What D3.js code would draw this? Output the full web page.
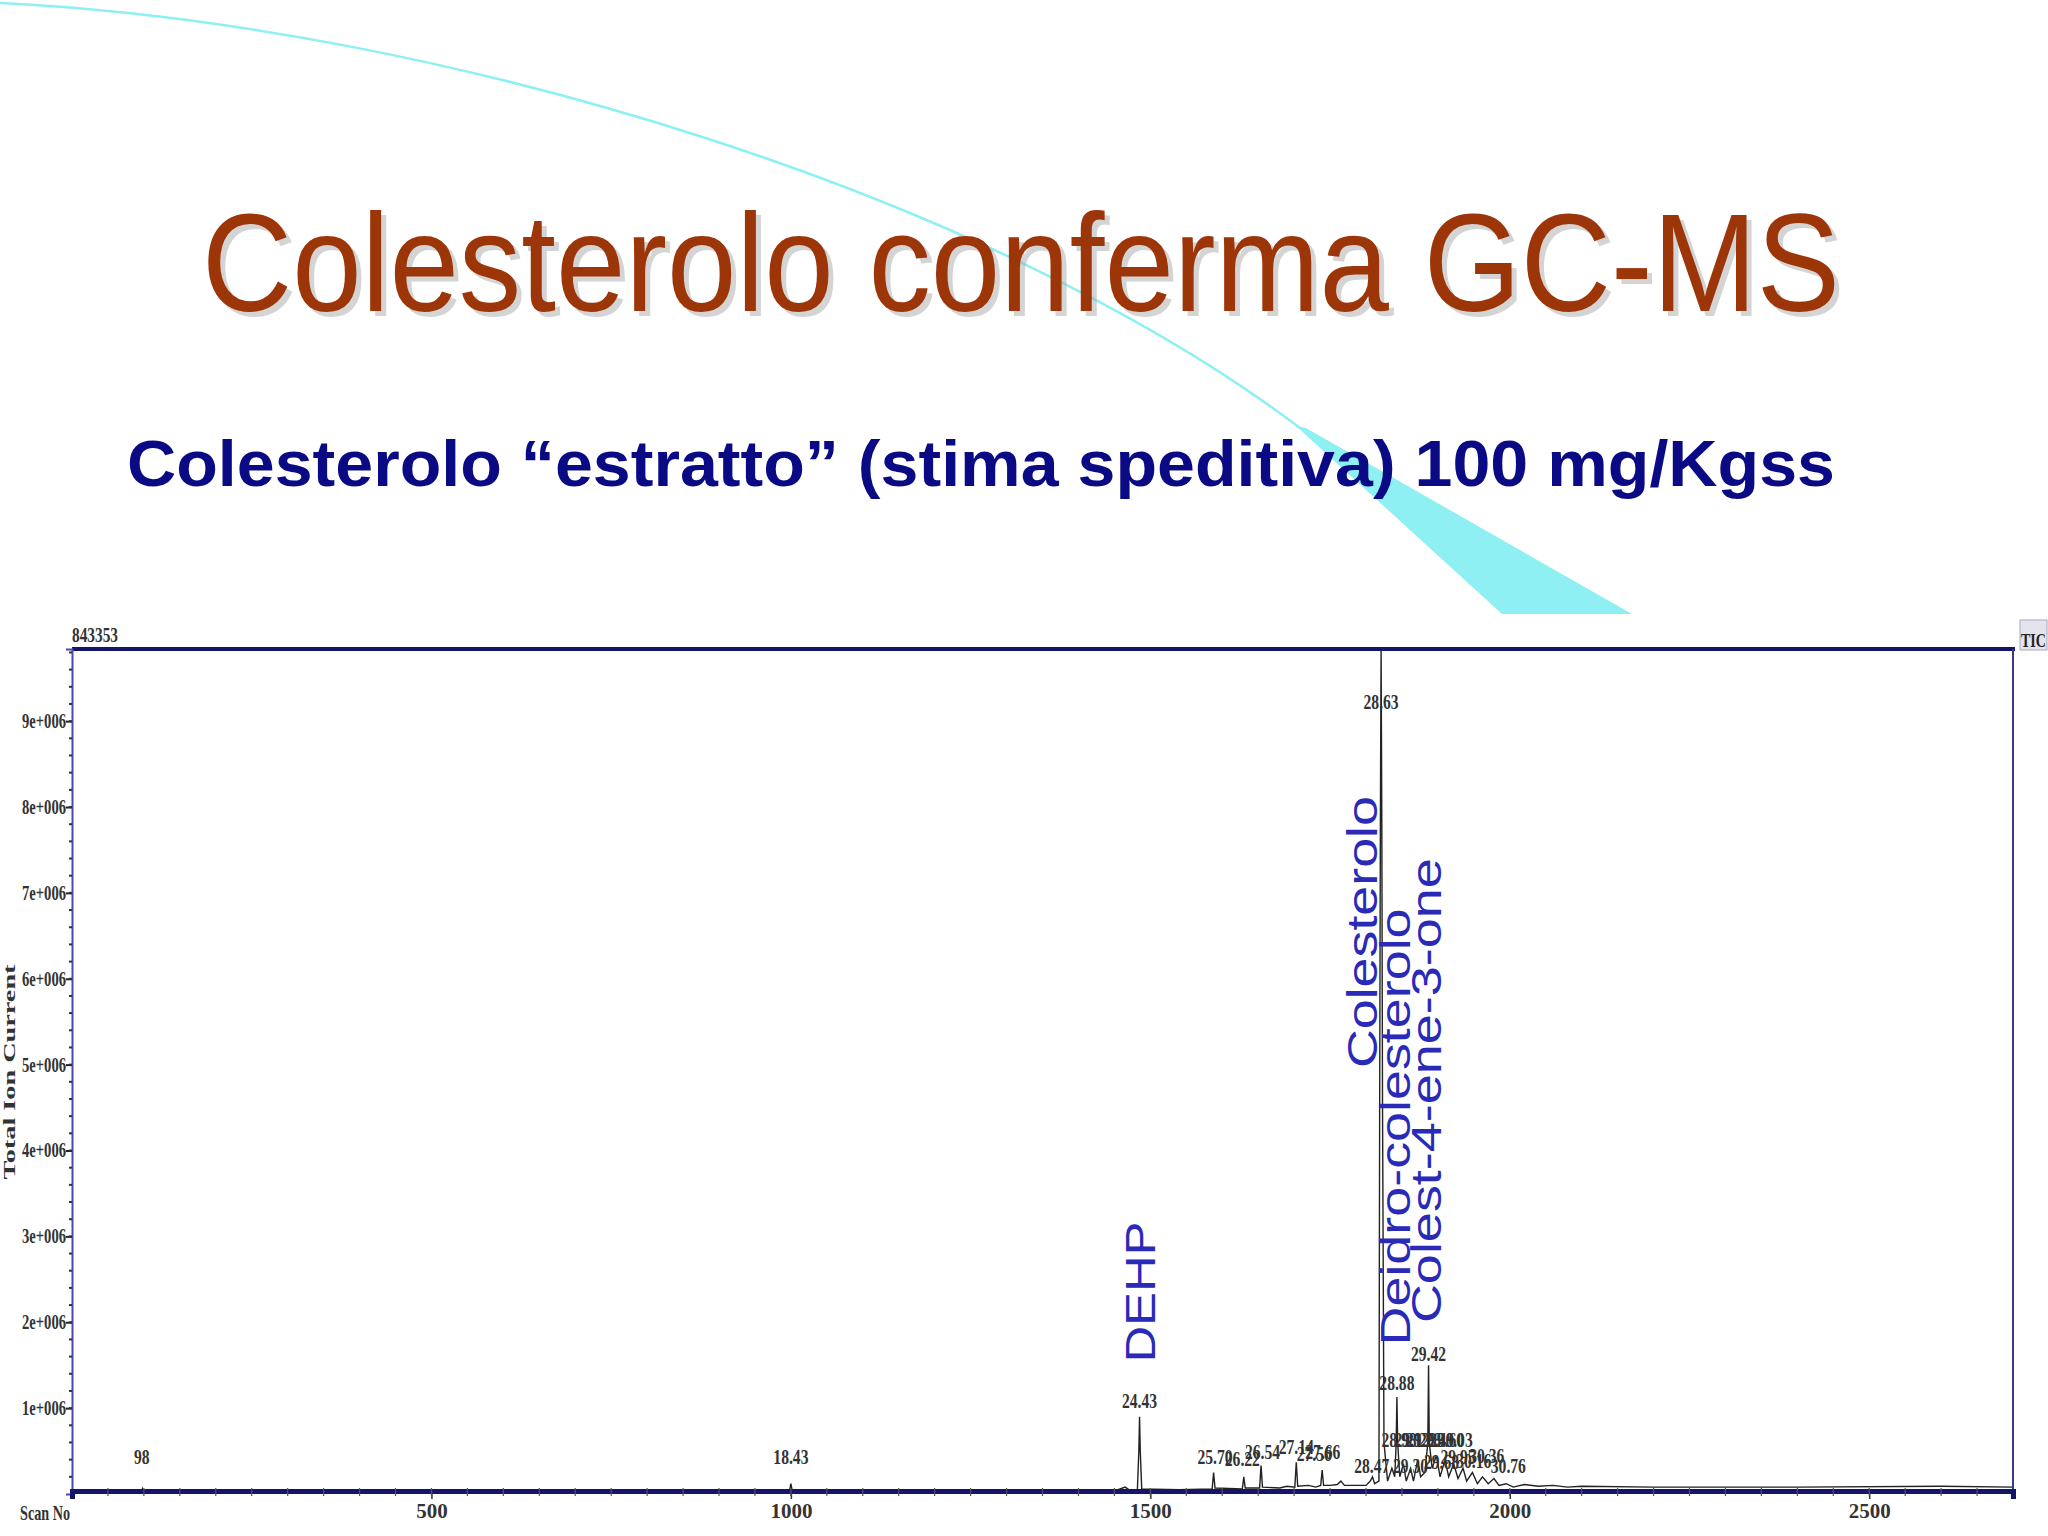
<!DOCTYPE html>
<html>
<head>
<meta charset="utf-8">
<script src="https://cdn.jsdelivr.net/npm/d3@7"></script>
<style>
body { margin: 0; background: #fff; }
svg { display: block; }
</style>
</head>
<body>
<svg id="chart" width="2048" height="1536"></svg>
<script>
// chromatogram trace: [scan number, total ion current in millions]
const trace = [
  [0,0.03],[60,0.03],[97,0.03],[98,0.06],[99,0.03],[460,0.03],[470,0.04],[480,0.03],
  [998,0.03],[1000,0.12],[1002,0.03],[1440,0.03],[1455,0.05],[1465,0.08],[1472,0.04],
  [1482,0.05],[1484,0.5],[1485,0.9],[1486,0.5],[1488,0.06],[1540,0.05],[1586,0.06],
  [1588,0.25],[1590,0.07],[1628,0.06],[1630,0.2],[1632,0.07],[1652,0.07],[1654,0.33],
  [1656,0.08],[1680,0.07],[1690,0.09],[1701,0.08],[1703,0.37],[1705,0.09],[1720,0.1],
  [1730,0.08],[1737,0.1],[1739,0.28],[1741,0.1],[1750,0.1],[1760,0.11],[1765,0.15],
  [1770,0.1],[1800,0.1],[1806,0.15],[1809,0.2],[1812,0.12],[1818,0.15],[1819,4.5],
  [1820,7.8],[1821,9.84],[1822,7.8],[1823,4.5],[1825,0.6],[1830,0.15],[1836,0.3],
  [1840,0.2],[1842,0.6],[1843,1.13],[1844,0.6],[1847,0.2],[1852,0.35],[1856,0.15],
  [1862,0.3],[1866,0.15],[1872,0.4],[1876,0.2],[1882,0.25],[1886,0.6],[1887,1.5],
  [1888,0.6],[1892,0.3],[1898,0.45],[1903,0.2],[1910,0.4],[1915,0.2],[1922,0.35],
  [1928,0.18],[1935,0.3],[1940,0.15],[1948,0.25],[1955,0.12],[1962,0.2],[1970,0.12],
  [1978,0.18],[1985,0.1],[1995,0.12],[2005,0.08],[2020,0.11],[2040,0.09],[2060,0.1],
  [2080,0.08],[2100,0.09],[2200,0.08],[2400,0.08],[2600,0.09],[2700,0.08]
];

// retention time labels: [scan, height in millions, text]
const peakLabels = [
  [97,0.3,"98"],[1000,0.3,"18.43"],[1485,0.95,"24.43"],[1590,0.3,"25.70"],
  [1628,0.28,"26.22"],[1656,0.36,"26.54"],[1703,0.42,"27.14"],[1728,0.34,"27.56"],
  [1740,0.36,"27.66"],[1808,0.2,"28.47"],[1821,9.1,"28.63"],[1843,1.17,"28.88"],
  [1887,1.5,"29.42"],[1846,0.5,"28.98"],[1864,0.5,"29.12"],[1880,0.5,"29.28"],
  [1898,0.5,"29.49"],[1912,0.5,"29.60"],[1924,0.5,"30.03"],[1862,0.2,"29.30"],
  [1905,0.24,"29.68"],[1928,0.3,"29.95"],[1950,0.26,"30.16"],[1968,0.32,"30.36"],
  [1998,0.2,"30.76"]
];

// compound names: [scan, bottom height in millions, text]
const compounds = [
  [1485,1.53,"DEHP"],[1795,4.96,"Colesterolo"],
  [1841,1.73,"Deidro-colesterolo"],[1884,1.99,"Colest-4-ene-3-one"]
];
const compoundLengths = [141, 272, 437, 465];

const xTicks = [500,1000,1500,2000,2500];
const yTicks = [1,2,3,4,5,6,7,8,9];

const svg = d3.select('#chart');
const serif = '"Liberation Serif", "Times New Roman", serif';
const sans = '"Liberation Sans", Arial, sans-serif';

// decorative swoosh
svg.append('path')
  .attr('d', 'M0,3 C450,25 1000,200 1300,428')
  .attr('fill', 'none').attr('stroke', '#8ef0f2').attr('stroke-width', 2.5);
svg.append('path')
  .attr('d', 'M1296,426 L1306,428 L1632,614 L1502,614 Z')
  .attr('fill', '#8ef0f2');

// title with shadow
const title = 'Colesterolo conferma GC-MS';
svg.append('text')
  .attr('x', 207).attr('y', 316)
  .attr('textLength', 1638).attr('lengthAdjust', 'spacingAndGlyphs')
  .style('font-family', sans).style('font-size', '140px').attr('fill', '#aaa').attr('opacity', 0.5)
  .text(title);
svg.append('text')
  .attr('x', 202).attr('y', 311)
  .attr('textLength', 1638).attr('lengthAdjust', 'spacingAndGlyphs')
  .style('font-family', sans).style('font-size', '140px').attr('fill', '#9c3508')
  .text(title);

svg.append('text')
  .attr('x', 127).attr('y', 486)
  .attr('textLength', 1708).attr('lengthAdjust', 'spacingAndGlyphs')
  .style('font-family', sans).style('font-size', '64px').style('font-weight', 'bold').attr('fill', '#0a0a85')
  .text('Colesterolo \u201Cestratto\u201D (stima speditiva) 100 mg/Kgss');

// plot area
const mLeft = 72, mRight = 2013, mTop = 649, mBottom = 1494;

const x = d3.scaleLinear().domain([0, 2700]).range([mLeft, mRight]);
const y = d3.scaleLinear().domain([0, 9.84]).range([mBottom, mTop]);

const axisColor = '#14146a';

// trace
svg.append('path')
  .datum(trace)
  .attr('fill', 'none').attr('stroke', '#222').attr('stroke-width', 1.4)
  .attr('d', d3.line().x(d => x(d[0])).y(d => y(Math.min(d[1], 9.84))));

// borders
svg.append('line').attr('x1', mLeft).attr('x2', mRight + 2).attr('y1', mTop).attr('y2', mTop)
  .attr('stroke', axisColor).attr('stroke-width', 4);
svg.append('line').attr('x1', mRight).attr('x2', mRight).attr('y1', mTop).attr('y2', mBottom - 3)
  .attr('stroke', '#3a3a8a').attr('stroke-width', 2);

// y axis
const yAxis = svg.append('g').attr('transform', `translate(${mLeft},0)`)
  .call(d3.axisLeft(y).tickValues(yTicks).tickSize(6).tickFormat(d => `${d}e+006`));
yAxis.select('.domain').attr('stroke', '#4a4ab0').attr('stroke-width', 2);
yAxis.selectAll('.tick line').attr('stroke', '#222').attr('stroke-width', 2);
yAxis.selectAll('.tick text').attr('x', -6)
  .attr('textLength', 44).attr('lengthAdjust', 'spacingAndGlyphs')
  .style('font-size', '20px').style('font-weight', 'bold').style('font-family', serif).attr('fill', '#333');
yAxis.selectAll('.minor').data(d3.range(0.2, 9.84, 0.2)).enter().append('line')
  .attr('x1', -3).attr('x2', 0).attr('y1', d => y(d)).attr('y2', d => y(d))
  .attr('stroke', '#333').attr('stroke-width', 2);

// x axis
const xAxis = svg.append('g').attr('transform', `translate(0,${mBottom - 3})`)
  .call(d3.axisBottom(x).tickValues(xTicks).tickSize(8).tickFormat(d3.format('d')));
xAxis.select('.domain').attr('stroke', axisColor).attr('stroke-width', 5);
xAxis.selectAll('.tick line').attr('stroke', '#333').attr('stroke-width', 1.5);
xAxis.selectAll('.tick text').attr('y', 12)
  .style('font-size', '21px').style('font-weight', 'bold').style('font-family', serif).attr('fill', '#333');
xAxis.selectAll('.minor').data(d3.range(50, 2700, 50)).enter().append('line')
  .attr('x1', d => x(d)).attr('x2', d => x(d)).attr('y1', -3).attr('y2', 5)
  .attr('stroke', '#555').attr('stroke-width', 1.2);

svg.append('text').attr('x', 20).attr('y', 1520)
  .attr('textLength', 50).attr('lengthAdjust', 'spacingAndGlyphs')
  .style('font-family', serif).style('font-size', '21px').style('font-weight', 'bold').attr('fill', '#333')
  .text('Scan No');
svg.append('text').attr('transform', 'translate(15,1072) rotate(-90)').attr('text-anchor', 'middle')
  .attr('textLength', 215).attr('lengthAdjust', 'spacingAndGlyphs')
  .style('font-family', serif).style('font-size', '16px').style('font-weight', 'bold')
  .attr('fill', '#333')
  .text('Total Ion Current');
svg.append('text').attr('x', 72).attr('y', 642)
  .attr('textLength', 46).attr('lengthAdjust', 'spacingAndGlyphs')
  .style('font-family', serif).style('font-size', '20px').style('font-weight', 'bold').attr('fill', '#333')
  .text('843353');
svg.append('rect').attr('x', 2020).attr('y', 620).attr('width', 27).attr('height', 30)
  .attr('fill', '#e4e4ee').attr('stroke', '#aab').attr('stroke-width', 1);
svg.append('text').attr('x', 2021).attr('y', 647)
  .attr('textLength', 25).attr('lengthAdjust', 'spacingAndGlyphs')
  .style('font-family', serif).style('font-size', '19px').style('font-weight', 'bold')
  .attr('fill', '#222').text('TIC');

// retention time labels
svg.append('g').selectAll('text').data(peakLabels).enter().append('text')
  .attr('x', d => x(d[0])).attr('y', d => y(d[1]) - 4)
  .attr('text-anchor', 'middle')
  .style('font-family', serif).style('font-size', '20px').style('font-weight', 'bold')
  .attr('fill', '#333').attr('transform', d => `translate(${x(d[0]) * 0.22},0) scale(0.78,1)`)
  .text(d => d[2]);

// compound names
svg.append('g').selectAll('text').data(compounds).enter().append('text')
  .attr('transform', d => `translate(${x(d[0]) + 15},${y(d[1])}) rotate(-90)`)
  .attr('textLength', (d, i) => compoundLengths[i]).attr('lengthAdjust', 'spacingAndGlyphs')
  .style('font-family', sans).style('font-size', '42px')
  .attr('fill', '#2a2ab8')
  .text(d => d[2]);
</script>
</body>
</html>
